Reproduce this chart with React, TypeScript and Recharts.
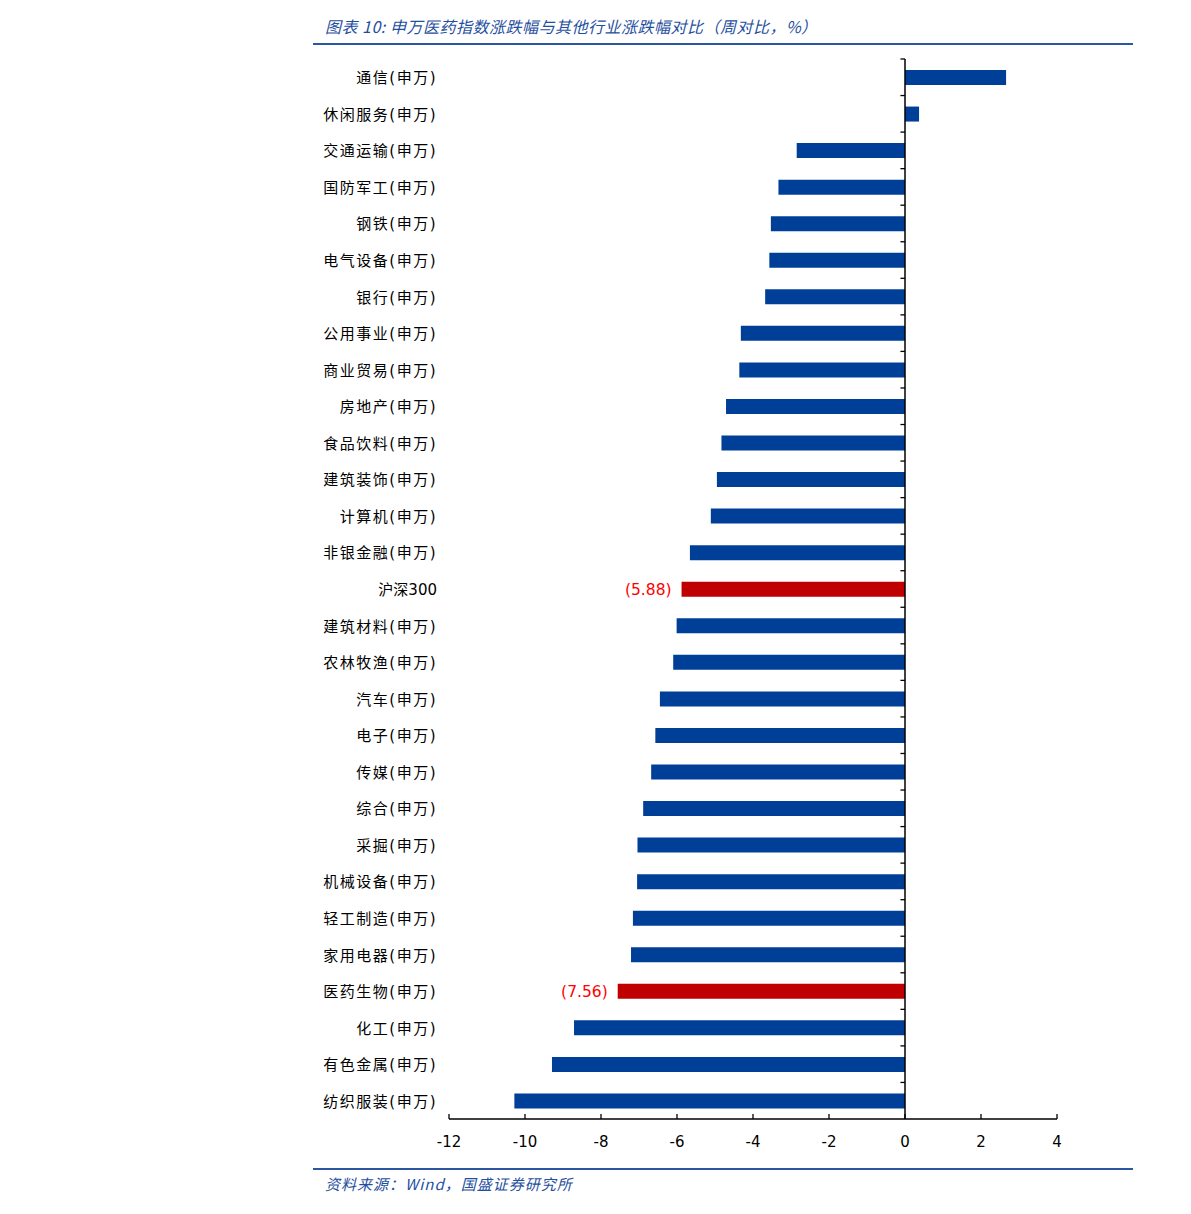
import React from 'react';
import { BarChart, Bar, XAxis, YAxis, Cell, ReferenceLine, LabelList } from 'recharts';

const categories = [
  '通信(申万)', '休闲服务(申万)', '交通运输(申万)', '国防军工(申万)', '钢铁(申万)',
  '电气设备(申万)', '银行(申万)', '公用事业(申万)', '商业贸易(申万)', '房地产(申万)',
  '食品饮料(申万)', '建筑装饰(申万)', '计算机(申万)', '非银金融(申万)', '沪深300',
  '建筑材料(申万)', '农林牧渔(申万)', '汽车(申万)', '电子(申万)', '传媒(申万)',
  '综合(申万)', '采掘(申万)', '机械设备(申万)', '轻工制造(申万)', '家用电器(申万)',
  '医药生物(申万)', '化工(申万)', '有色金属(申万)', '纺织服装(申万)',
];

const values = [
  2.66, 0.37, -2.85, -3.33, -3.53,
  -3.57, -3.68, -4.32, -4.36, -4.71,
  -4.83, -4.95, -5.11, -5.66, -5.88,
  -6.01, -6.10, -6.45, -6.57, -6.68,
  -6.89, -7.04, -7.05, -7.16, -7.21,
  -7.56, -8.71, -9.29, -10.28,
];

const highlighted = ['沪深300', '医药生物(申万)'];
const xTicks = [-12, -10, -8, -6, -4, -2, 0, 2, 4];

const BLUE = '#003F98';
const RED = '#C00000';

const data = categories.map((name, i) => ({
  name,
  value: values[i],
  hl: highlighted.includes(name),
}));

const RedLabel = (props: any) => {
  const { x, y, width, height, index, value } = props;
  if (!data[index] || !data[index].hl) return null;
  const left = Math.min(Number(x), Number(x) + Number(width));
  return (
    <text
      x={left - 10}
      y={Number(y) + Number(height) / 2 + 1}
      textAnchor="end"
      dominantBaseline="central"
      fill="#FF0000"
      fontSize={15.5}
      fontFamily="DejaVu Sans, Verdana, sans-serif"
    >
      {`(${Math.abs(Number(value)).toFixed(2)})`}
    </text>
  );
};

const CatTick = (props: any) => {
  const { x, y, payload } = props;
  const label = String(payload.value);
  const isCJK = /[\u4e00-\u9fff]/.test(label.replace('沪深', ''));
  return (
    <text
      x={x}
      y={Number(y) + 1}
      textAnchor="end"
      dominantBaseline="central"
      fill="#000"
      fontSize={15}
      letterSpacing={isCJK ? 1.5 : 0}
      fontFamily='"DejaVu Sans", "Noto Sans CJK SC", sans-serif'
    >
      {label}
    </text>
  );
};

export default function App() {
  return (
    <div
      style={{
        position: 'relative',
        width: 1175,
        height: 1198,
        background: '#fff',
        fontFamily: '"Noto Sans CJK SC", sans-serif',
      }}
    >
      <div
        style={{
          position: 'absolute',
          left: 317,
          top: 6,
          fontSize: 16,
          fontStyle: 'italic',
          color: '#1F4FA0',
          whiteSpace: 'nowrap',
          letterSpacing: 0.5,
        }}
      >
        图表 10:  申万医药指数涨跌幅与其他行业涨跌幅对比（周对比，%）
      </div>
      <div
        style={{
          position: 'absolute',
          left: 305,
          top: 35,
          width: 820,
          height: 2,
          background: '#2C56A0',
        }}
      />
      <div style={{ position: 'absolute', left: 0, top: 0 }}>
        <BarChart
          width={1175}
          height={1198}
          data={data}
          layout="vertical"
          margin={{ top: 51, right: 126, bottom: 47, left: 0 }}
          barSize={15}
        >
          <XAxis
            type="number"
            domain={[-12, 4]}
            ticks={xTicks}
            interval={0}
            allowDataOverflow
            height={40}
            axisLine={{ stroke: '#000', strokeWidth: 1.3 }}
            tickLine={{ stroke: '#000', strokeWidth: 1.3 }}
            tickSize={-5}
            tickMargin={22}
            tick={{ fill: '#000', fontSize: 15, fontFamily: 'DejaVu Sans, Verdana, sans-serif' }}
          />
          <YAxis
            type="category"
            dataKey="name"
            width={441}
            axisLine={false}
            tickLine={false}
            tickSize={0}
            tickMargin={12}
            interval={0}
            tick={<CatTick />}
          />
          <Bar dataKey="value" isAnimationActive={false}>
            {data.map((d) => (
              <Cell key={d.name} fill={d.hl ? RED : BLUE} />
            ))}
            <LabelList dataKey="value" content={RedLabel} />
          </Bar>
          <ReferenceLine x={0} stroke="#000" strokeWidth={1.5} />
          {categories.map((c) => (
            <ReferenceLine
              key={'t' + c}
              segment={[{ x: -0.12, y: c }, { x: 0, y: c }]}
              position="start"
              stroke="#000"
              strokeWidth={1.3}
              ifOverflow="visible"
            />
          ))}
        </BarChart>
      </div>
      <div
        style={{
          position: 'absolute',
          left: 305,
          top: 1160,
          width: 820,
          height: 2,
          background: '#2C56A0',
        }}
      />
      <div
        style={{
          position: 'absolute',
          left: 317,
          top: 1165,
          fontSize: 15,
          fontStyle: 'italic',
          color: '#1F4FA0',
          whiteSpace: 'nowrap',
          letterSpacing: 1,
        }}
      >
        资料来源：Wind，国盛证券研究所
      </div>
    </div>
  );
}
